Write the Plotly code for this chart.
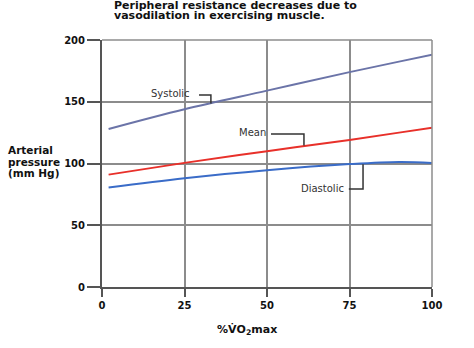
import plotly.graph_objects as go

# ---- data ----
pct_vo2max = [2, 25, 50, 75, 90, 100]
systolic = [128, 144, 159, 174, 182.5, 188]
mean_p = [91, 100.5, 110, 119, 125, 129]
diastolic = [80.5, 88, 94.5, 99.5, 101.3, 100.5]

x_ticks = [0, 25, 50, 75, 100]
y_ticks = [0, 50, 100, 150, 200]

title_lines = ["Peripheral resistance decreases due to",
               "vasodilation in exercising muscle."]
ytitle_lines = ["Arterial", "pressure", "(mm Hg)"]
x_title = "%V\u0307O<sub>2</sub>max"

FONT = "DejaVu Sans"
AXIS_COL = "#555555"
GRID_COL = "#8c8c8c"

fig = go.Figure()
fig.add_trace(go.Scatter(x=pct_vo2max, y=systolic, mode="lines",
                         line=dict(color="#6b74a8", width=2, shape="spline"),
                         name="Systolic", showlegend=False))
fig.add_trace(go.Scatter(x=pct_vo2max, y=mean_p, mode="lines",
                         line=dict(color="#e8302a", width=2, shape="spline"),
                         name="Mean", showlegend=False))
fig.add_trace(go.Scatter(x=pct_vo2max, y=diastolic, mode="lines",
                         line=dict(color="#3a6cc8", width=2, shape="spline"),
                         name="Diastolic", showlegend=False))

tickfont = dict(family=FONT, size=10, color="#111111", weight="bold")

fig.update_xaxes(range=[0, 100], tickvals=x_ticks, ticktext=[str(v) for v in x_ticks],
                 showgrid=True, gridcolor=GRID_COL, gridwidth=1.5,
                 showline=True, linecolor=AXIS_COL, linewidth=2,
                 ticks="outside", ticklen=8, tickwidth=2, tickcolor=AXIS_COL,
                 tickfont=tickfont, zeroline=False, fixedrange=True)
fig.update_yaxes(range=[0, 200], tickvals=y_ticks, ticktext=[str(v) for v in y_ticks],
                 showgrid=True, gridcolor=GRID_COL, gridwidth=1.5,
                 showline=True, linecolor=AXIS_COL, linewidth=2,
                 ticks="outside", ticklen=13, tickwidth=2, tickcolor=AXIS_COL,
                 tickfont=tickfont, zeroline=False, fixedrange=True)

shapes = [
    # top and right border (grid-coloured)
    dict(type="line", xref="paper", yref="paper", x0=0, x1=1, y0=1, y1=1,
         line=dict(color=GRID_COL, width=1.5)),
    dict(type="line", xref="paper", yref="paper", x0=1, x1=1, y0=0, y1=1,
         line=dict(color=GRID_COL, width=1.5)),
]
# leader brackets
leader = dict(color="#333333", width=1.5)
for pts in ([(29.4, 155.5), (33.0, 155.5), (33.0, 148.5)],
            [(51.2, 123.9), (61.2, 123.9), (61.2, 114.5)],
            [(74.8, 79.4), (79.1, 79.4), (79.1, 99.3)]):
    path = "M " + " L ".join(f"{x},{y}" for x, y in pts)
    shapes.append(dict(type="path", xref="x", yref="y", path=path, line=leader))

annotations = []
for txt, x, y in (("Systolic", 27.4, 156.5), ("Mean", 50.3, 125.5), ("Diastolic", 73.9, 79.4)):
    annotations.append(dict(text=txt, x=x, y=y, xref="x", yref="y", xanchor="right",
                            yanchor="middle", showarrow=False,
                            font=dict(family=FONT, size=10, color="#333333")))

tfont = dict(family=FONT, size=11, color="#111111", weight="bold")
yfont = dict(family=FONT, size=10.5, color="#111111", weight="bold")
for i, line in enumerate(title_lines):
    annotations.append(dict(text=line, x=112, y=348 - 5 - i * 10.5, xref="paper", yref="paper",
                            showarrow=False, xanchor="left", yanchor="middle", font=tfont))
for i, line in enumerate(ytitle_lines):
    annotations.append(dict(text=line, x=6, y=348 - 150 - i * 11.5, xref="paper", yref="paper",
                            showarrow=False, xanchor="left", yanchor="middle", font=yfont))
annotations.append(dict(text=x_title, x=247, y=348 - 330, xref="paper", yref="paper",
                        showarrow=False, xanchor="center", yanchor="middle", font=tfont))

# convert pixel-placed paper annotations to paper fractions
L, R, T, B = 102, 42, 40, 61
W, H = 474, 348
pw, ph = W - L - R, H - T - B
for a in annotations:
    if a["xref"] == "paper":
        a["x"] = (a["x"] - L) / pw
        a["y"] = (a["y"] - B) / ph

fig.update_layout(width=W, height=H, margin=dict(l=L, r=R, t=T, b=B, pad=0),
                  plot_bgcolor="white", paper_bgcolor="white",
                  shapes=shapes, annotations=annotations, showlegend=False)

fig.write_html("out.html", config={"displayModeBar": False})
